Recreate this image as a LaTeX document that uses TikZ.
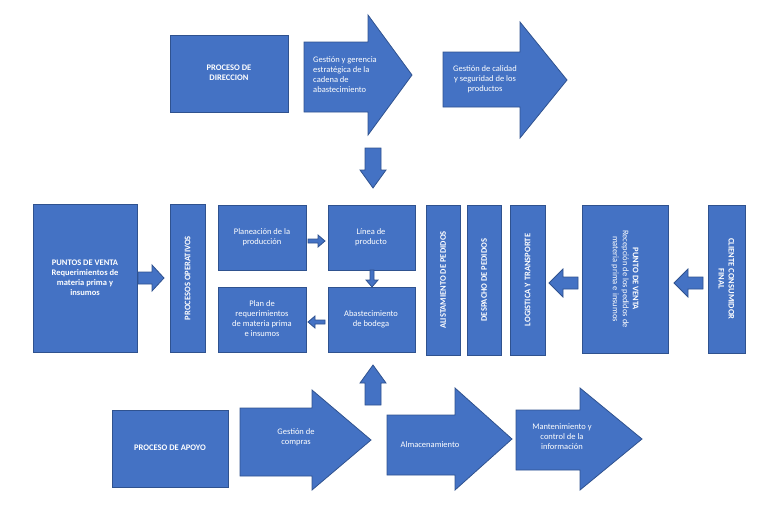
\documentclass[tikz,border=0pt]{standalone}
\usepackage{fontspec}
\setmainfont{Carlito}
\definecolor{boxblue}{HTML}{4472C4}
\definecolor{boxedge}{HTML}{2F528F}
\tikzset{
  blk/.style={fill=boxblue, draw=boxedge, line width=0.8pt},
  txt/.style={text=white, font=\fontsize{8.5}{10}\selectfont, align=center},
  btxt/.style={txt, font=\bfseries\fontsize{8.5}{10}\selectfont},
}
% big arrow: body x1..x2, body y top..bottom, head tip x3, head y top..bottom
\newcommand{\bigarr}[7]{%
  \fill[blk] (#1,#3) -- (#2,#3) -- (#2,#6) -- (#5,{(#6+#7)/2}) -- (#2,#7) -- (#2,#4) -- (#1,#4) -- cycle;}
% box by corners
\newcommand{\blkbox}[4]{\filldraw[blk] (#1,#2) rectangle (#3,#4);}
\begin{document}
\begin{tikzpicture}[x=1pt, y=-1pt]
    \useasboundingbox (0,0) rectangle (768,512);
    % direccion
    \blkbox{170}{35}{288}{112}
    \node[btxt] (dir) at (229,73) {PROCESO DE\\DIRECCION};
    \bigarr{304}{368}{42}{112}{412}{15}{135}
    \node[txt, align=left] (ger) at (345,75) {Gestión y gerencia\\estratégica de la\\cadena de\\abastecimiento};
    \bigarr{443}{520}{52}{107}{567}{22}{138}
    \node[txt] (cal) at (485,79) {Gestión de calidad\\y seguridad de los\\productos};
    % flecha abajo
    \fill[blk] (365,148) -- (381,148) -- (381,170) -- (386,170) -- (373,188) -- (360,170) -- (365,170) -- cycle;
    % fila central
    \blkbox{33}{204}{137}{352}
    \node[btxt] (pv) at (85,278) {PUNTOS DE VENTA\\Requerimientos de\\materia prima y\\insumos};
    \fill[blk] (138,272) -- (152,272) -- (152,265) -- (164,278) -- (152,291) -- (152,284) -- (138,284) -- cycle;
    \blkbox{170}{204}{205}{352}
    \node[btxt, rotate=90] (po) at (187.5,278) {PROCESOS OPERATIVOS};
    \blkbox{218}{205}{306}{270}
    \node[txt] (pla) at (262,237) {Planeación de la\\producción};
    \blkbox{328}{205}{415}{270}
    \node[txt] (lin) at (371,237) {Línea de\\producto};
    \blkbox{218}{287}{306}{352}
    \node[txt] (req) at (262,319) {Plan de\\requerimientos\\de materia prima\\e insumos};
    \blkbox{328}{287}{415}{352}
    \node[txt] (aba) at (371,319) {Abastecimiento\\de bodega};
    \fill[blk] (308,239) -- (318,239) -- (318,235) -- (325,241) -- (318,247) -- (318,243) -- (308,243) -- cycle;
    \fill[blk] (325,320) -- (315,320) -- (315,316) -- (308,322) -- (315,328) -- (315,324) -- (325,324) -- cycle;
    \fill[blk] (370,270) -- (374,270) -- (374,280) -- (378,280) -- (372,287) -- (366,280) -- (370,280) -- cycle;
    \blkbox{426}{205}{460}{355}
    \node[btxt, rotate=90] (ali) at (443,280) {ALISTAMIENTO DE PEDIDOS};
    \blkbox{467}{205}{501}{355}
    \node[btxt, rotate=90] (des) at (484,280) {DESPACHO DE PEDIDOS};
    \blkbox{510}{205}{545}{355}
    \node[btxt, rotate=90] (log) at (527.5,280) {LOGISTICA Y TRANSPORTE};
    \fill[blk] (578,277) -- (563,277) -- (563,269) -- (549,283) -- (563,297) -- (563,289) -- (578,289) -- cycle;
    \blkbox{582}{205}{668}{353}
    \node[txt, rotate=-90] (ptv) at (625,279) {\textbf{PUNTO DE VENTA}\\Recepción de los pedidos de\\materia prima e insumos};
    \fill[blk] (703,277) -- (688,277) -- (688,269) -- (674,283) -- (688,297) -- (688,289) -- (703,289) -- cycle;
    \blkbox{708}{205}{745}{353}
    \node[btxt, rotate=-90] (cli) at (726.5,279) {CLIENTE CONSUMIDOR\\FINAL};
    % flecha arriba
    \fill[blk] (365,405) -- (381,405) -- (381,383) -- (386,383) -- (373,365) -- (360,383) -- (365,383) -- cycle;
    % apoyo
    \blkbox{112}{410}{228}{487}
    \node[btxt] (apo) at (170,448) {PROCESO DE APOYO};
    \bigarr{240}{312}{408}{476}{371}{390}{490}
    \node[txt] (com) at (296,437) {Gestión de\\compras};
    \bigarr{387}{455}{415}{475}{512}{388}{490}
    \node[txt] (alm) at (430,445) {Almacenamiento};
    \bigarr{516}{580}{410}{470}{642}{388}{490}
    \node[txt] (man) at (562,437) {Mantenimiento y\\control de la\\información};
\end{tikzpicture}
\end{document}
